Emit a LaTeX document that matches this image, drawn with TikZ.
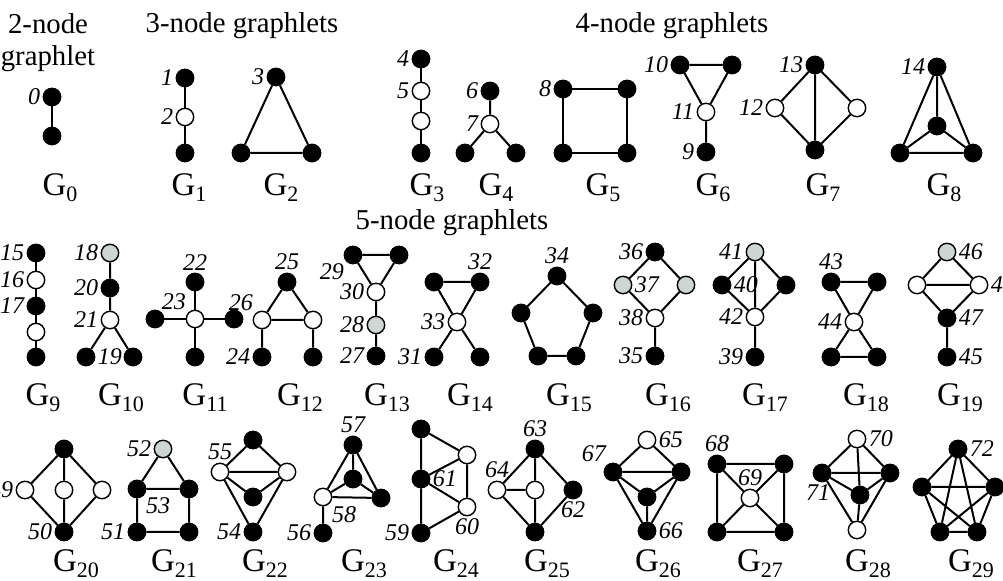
\documentclass[tikz,border=0pt]{standalone}
\usepackage{fontspec}
\setmainfont{Liberation Serif}
\usetikzlibrary{positioning}
\definecolor{orbitgrey}{RGB}{206,214,212}
\newcommand{\gname}[1]{G\raisebox{-0.35ex}{\fontsize{11}{11}\selectfont #1}}

\begin{document}
\begin{tikzpicture}[
  x=0.5pt, y=-0.5pt,
  vtx/.style={circle, draw, line width=0.7pt, inner sep=0pt, minimum size=8.7pt},
  blk/.style={vtx, fill=black},
  wht/.style={vtx, fill=white},
  gry/.style={vtx, fill=orbitgrey},
  edge/.style={line width=1pt},
  every label/.style={font=\fontsize{12}{12}\selectfont\itshape, inner sep=1pt},
  title/.style={font=\fontsize{14.4}{16}\selectfont, anchor=base, inner sep=0pt},
  gname/.style={font=\fontsize{16.5}{16.5}\selectfont, anchor=base, inner sep=0pt}
]
\useasboundingbox (0,0) rectangle (1003,581);

% titles
\node[title, anchor=north, align=center] (t2) at (48,13) {2-node\\graphlet};
\node[title] (t3) at (242,33) {3-node graphlets};
\node[title] (t4) at (672,33) {4-node graphlets};
\node[title] (t5) at (452,230) {5-node graphlets};

% 2- and 3-node graphlets
\node[blk, label=left:0] (g0a) at (52,97) {};
\node[blk] (g0b) at (52,136) {};
\draw[edge] (g0a) -- (g0b);
\node[gname] (n0) at (60,196) {\gname{0}};

\node[blk, label=left:1] (g1a) at (185,78) {};
\node[wht, label=left:2] (g1b) at (185,117) {};
\node[blk] (g1c) at (185,153) {};
\draw[edge] (g1a) -- (g1b) (g1b) -- (g1c);
\node[gname] (n1) at (189,196) {\gname{1}};

\node[blk, label=left:3] (g2a) at (276,77) {};
\node[blk] (g2b) at (241,153) {};
\node[blk] (g2c) at (312,153) {};
\draw[edge] (g2a) -- (g2b) (g2b) -- (g2c) (g2c) -- (g2a);
\node[gname] (n2) at (281,196) {\gname{2}};

% 4-node graphlets
\node[blk, label=left:4] (g3a) at (421,59) {};
\node[wht, label=left:5] (g3b) at (421,91) {};
\node[wht] (g3c) at (421,121) {};
\node[blk] (g3d) at (421,153) {};
\draw[edge] (g3a) -- (g3b) (g3b) -- (g3c) (g3c) -- (g3d);
\node[gname] (n3) at (427,196) {\gname{3}};

\node[blk, label=left:6] (g4a) at (490,91) {};
\node[wht, label=left:7] (g4b) at (490,124) {};
\node[blk] (g4c) at (465,153) {};
\node[blk] (g4d) at (516,153) {};
\draw[edge] (g4a) -- (g4b) (g4b) -- (g4c) (g4b) -- (g4d);
\node[gname] (n4) at (496,196) {\gname{4}};

\node[blk, label=left:8] (g5a) at (563,89) {};
\node[blk] (g5b) at (627,89) {};
\node[blk] (g5c) at (563,153) {};
\node[blk] (g5d) at (627,153) {};
\draw[edge] (g5a) -- (g5b) (g5b) -- (g5d) (g5d) -- (g5c) (g5c) -- (g5a);
\node[gname] (n5) at (603,196) {\gname{5}};

\node[blk, label=left:10] (g6a) at (680,65) {};
\node[blk] (g6b) at (732,65) {};
\node[wht, label=left:11] (g6c) at (706,112) {};
\node[blk, label=left:9] (g6d) at (706,152) {};
\draw[edge] (g6a) -- (g6b) (g6a) -- (g6c) (g6b) -- (g6c) (g6c) -- (g6d);
\node[gname] (n6) at (713,196) {\gname{6}};

\node[blk, label=left:13] (g7a) at (815,65) {};
\node[wht, label=left:12] (g7b) at (775,108) {};
\node[wht] (g7c) at (857,108) {};
\node[blk] (g7d) at (815,150) {};
\draw[edge] (g7a) -- (g7b) (g7a) -- (g7c) (g7a) -- (g7d) (g7b) -- (g7d) (g7c) -- (g7d);
\node[gname] (n7) at (823,196) {\gname{7}};

\node[blk, label=left:14] (g8a) at (937,67) {};
\node[blk] (g8b) at (937,126) {};
\node[blk] (g8c) at (900,153) {};
\node[blk] (g8d) at (973,153) {};
\draw[edge] (g8a) -- (g8b) (g8a) -- (g8c) (g8a) -- (g8d) (g8b) -- (g8c) (g8b) -- (g8d) (g8c) -- (g8d);
\node[gname] (n8) at (944,196) {\gname{8}};

% 5-node graphlets, first row
\node[blk, label=left:15] (g9a) at (36,253) {};
\node[wht, label=left:16] (g9b) at (36,280) {};
\node[blk, label=left:17] (g9c) at (36,306) {};
\node[wht] (g9d) at (36,332) {};
\node[blk] (g9e) at (36,357) {};
\draw[edge] (g9a) -- (g9b) (g9b) -- (g9c) (g9c) -- (g9d) (g9d) -- (g9e);
\node[gname] (n9) at (43,406) {\gname{9}};

\node[gry, label=left:18] (g10a) at (110,253) {};
\node[blk, label=left:20] (g10b) at (110,288) {};
\node[wht, label=left:21] (g10c) at (110,320) {};
\node[blk, label=right:19] (g10d) at (86,357) {};
\node[blk] (g10e) at (133,357) {};
\draw[edge] (g10a) -- (g10b) (g10b) -- (g10c) (g10c) -- (g10d) (g10c) -- (g10e);
\node[gname] (n10) at (121,406) {\gname{10}};

\node[blk, label=above:22] (g11a) at (195,282) {};
\node[wht, label=above left:23] (g11b) at (195,319) {};
\node[blk] (g11c) at (155,319) {};
\node[blk] (g11d) at (234,319) {};
\node[blk] (g11e) at (195,357) {};
\draw[edge] (g11b) -- (g11a) (g11b) -- (g11c) (g11b) -- (g11d) (g11b) -- (g11e);
\node[gname] (n11) at (205,406) {\gname{11}};

\node[blk, label=above:25] (g12a) at (287,282) {};
\node[wht, label=above left:26] (g12b) at (262,320) {};
\node[wht] (g12c) at (313,320) {};
\node[blk, label=left:24] (g12d) at (262,357) {};
\node[blk] (g12e) at (313,357) {};
\draw[edge] (g12a) -- (g12b) (g12a) -- (g12c) (g12b) -- (g12c) (g12b) -- (g12d) (g12c) -- (g12e);
\node[gname] (n12) at (300,406) {\gname{12}};

\node[blk, label=below left:29] (g13a) at (353,255) {};
\node[blk] (g13b) at (399,255) {};
\node[wht, label=left:30] (g13c) at (376,292) {};
\node[gry, label=left:28] (g13d) at (376,325) {};
\node[blk, label=left:27] (g13e) at (376,356) {};
\draw[edge] (g13a) -- (g13b) (g13a) -- (g13c) (g13b) -- (g13c) (g13c) -- (g13d) (g13d) -- (g13e);
\node[gname] (n13) at (387,406) {\gname{13}};

\node[blk] (g14a) at (434,282) {};
\node[blk, label=above:32] (g14b) at (480,282) {};
\node[wht, label=left:33] (g14c) at (457,322) {};
\node[blk, label=left:31] (g14d) at (434,357) {};
\node[blk] (g14e) at (480,357) {};
\draw[edge] (g14a) -- (g14b) (g14a) -- (g14c) (g14b) -- (g14c) (g14c) -- (g14d) (g14c) -- (g14e);
\node[gname] (n14) at (470,406) {\gname{14}};

\node[blk, label=above:34] (g15a) at (557,276) {};
\node[blk] (g15b) at (521,313) {};
\node[blk] (g15c) at (593,313) {};
\node[blk] (g15d) at (538,356) {};
\node[blk] (g15e) at (576,356) {};
\draw[edge] (g15a) -- (g15b) (g15b) -- (g15d) (g15d) -- (g15e) (g15e) -- (g15c) (g15c) -- (g15a);
\node[gname] (n15) at (569,406) {\gname{15}};

\node[blk, label=left:36] (g16a) at (655,252) {};
\node[gry, label=right:37] (g16b) at (623,285) {};
\node[gry] (g16c) at (686,285) {};
\node[wht, label=left:38] (g16d) at (655,318) {};
\node[blk, label=left:35] (g16e) at (655,356) {};
\draw[edge] (g16a) -- (g16b) (g16a) -- (g16c) (g16b) -- (g16d) (g16c) -- (g16d) (g16d) -- (g16e);
\node[gname] (n16) at (668,406) {\gname{16}};

\node[gry, label=left:41] (g17a) at (755,252) {};
\node[blk, label=right:40] (g17b) at (722,285) {};
\node[blk] (g17c) at (786,285) {};
\node[wht, label=left:42] (g17d) at (755,317) {};
\node[blk, label=left:39] (g17e) at (755,357) {};
\draw[edge] (g17a) -- (g17b) (g17a) -- (g17c) (g17a) -- (g17d) (g17b) -- (g17d) (g17c) -- (g17d) (g17d) -- (g17e);
\node[gname] (n17) at (765,406) {\gname{17}};

\node[blk, label=above:43] (g18a) at (831,282) {};
\node[blk] (g18b) at (877,282) {};
\node[wht, label=left:44] (g18c) at (854,322) {};
\node[blk] (g18d) at (831,357) {};
\node[blk] (g18e) at (877,357) {};
\draw[edge] (g18a) -- (g18b) (g18a) -- (g18c) (g18b) -- (g18c) (g18c) -- (g18d) (g18c) -- (g18e) (g18d) -- (g18e);
\node[gname] (n18) at (866,406) {\gname{18}};

\node[gry, label=right:46] (g19a) at (947,252) {};
\node[wht] (g19b) at (917,285) {};
\node[wht, label=right:48] (g19c) at (979,285) {};
\node[blk, label=right:47] (g19d) at (947,318) {};
\node[blk, label=right:45] (g19e) at (947,357) {};
\draw[edge] (g19a) -- (g19b) (g19a) -- (g19c) (g19b) -- (g19c) (g19b) -- (g19d) (g19c) -- (g19d) (g19d) -- (g19e);
\node[gname] (n19) at (960,406) {\gname{19}};

% 5-node graphlets, second row
\node[blk] (g20a) at (64,449) {};
\node[wht, label=left:49] (g20b) at (25,490) {};
\node[wht] (g20c) at (64,490) {};
\node[wht] (g20d) at (102,490) {};
\node[blk, label=left:50] (g20e) at (64,532) {};
\draw[edge] (g20a) -- (g20b) (g20a) -- (g20c) (g20a) -- (g20d) (g20b) -- (g20e) (g20c) -- (g20e) (g20d) -- (g20e);
\node[gname] (n20) at (76,572) {\gname{20}};

\node[gry, label=left:52] (g21a) at (163,449) {};
\node[blk, label=below right:53] (g21b) at (137,489) {};
\node[blk] (g21c) at (189,489) {};
\node[blk, label=left:51] (g21d) at (137,532) {};
\node[blk] (g21e) at (189,532) {};
\draw[edge] (g21a) -- (g21b) (g21a) -- (g21c) (g21b) -- (g21c) (g21b) -- (g21d) (g21c) -- (g21e) (g21d) -- (g21e);
\node[gname] (n21) at (174,572) {\gname{21}};

\node[blk] (g22a) at (253,440) {};
\node[wht, label=above:55] (g22b) at (220,472) {};
\node[wht] (g22c) at (287,472) {};
\node[blk] (g22d) at (253,497) {};
\node[blk, label=left:54] (g22e) at (253,532) {};
\draw[edge] (g22a) -- (g22b) (g22a) -- (g22c) (g22b) -- (g22c) (g22b) -- (g22d) (g22c) -- (g22d) (g22b) -- (g22e) (g22c) -- (g22e);
\node[gname] (n22) at (265,572) {\gname{22}};

\node[blk, label=above:57] (g23a) at (353,445) {};
\node[blk] (g23b) at (353,479) {};
\node[wht, label=below right:58] (g23c) at (323,497) {};
\node[blk] (g23d) at (381,498) {};
\node[blk, label=left:56] (g23e) at (323,533) {};
\draw[edge] (g23a) -- (g23b) (g23a) -- (g23c) (g23a) -- (g23d) (g23b) -- (g23c) (g23b) -- (g23d) (g23c) -- (g23d) (g23c) -- (g23e);
\node[gname] (n23) at (364,572) {\gname{23}};

\node[blk] (g24a) at (421,429) {};
\node[blk, label=right:61] (g24b) at (421,479) {};
\node[blk, label=left:59] (g24c) at (421,533) {};
\node[wht] (g24d) at (467,455) {};
\node[wht, label=below:60] (g24e) at (467,507) {};
\draw[edge] (g24a) -- (g24b) (g24b) -- (g24c) (g24a) -- (g24d) (g24b) -- (g24d) (g24b) -- (g24e) (g24c) -- (g24e) (g24d) -- (g24e);
\node[gname] (n24) at (456,572) {\gname{24}};

\node[blk, label=above:63] (g25a) at (535,449) {};
\node[wht, label=above:64] (g25b) at (497,490) {};
\node[wht] (g25c) at (535,490) {};
\node[blk, label=below:62] (g25d) at (573,490) {};
\node[blk] (g25e) at (535,532) {};
\draw[edge] (g25a) -- (g25b) (g25a) -- (g25c) (g25a) -- (g25d) (g25b) -- (g25c) (g25c) -- (g25e) (g25b) -- (g25e) (g25d) -- (g25e);
\node[gname] (n25) at (547,572) {\gname{25}};

\node[wht, label=right:65] (g26a) at (647,440) {};
\node[blk, label=120:67] (g26b) at (613,472) {};
\node[blk] (g26c) at (681,472) {};
\node[blk] (g26d) at (647,497) {};
\node[blk, label=right:66] (g26e) at (647,531) {};
\draw[edge] (g26a) -- (g26b) (g26a) -- (g26c) (g26b) -- (g26c) (g26b) -- (g26d) (g26c) -- (g26d) (g26b) -- (g26e) (g26c) -- (g26e) (g26d) -- (g26e);
\node[gname] (n26) at (658,572) {\gname{26}};

\node[blk, label=above:68] (g27a) at (717,464) {};
\node[blk] (g27b) at (784,464) {};
\node[wht, label=above:69] (g27c) at (750,498) {};
\node[blk] (g27d) at (717,532) {};
\node[blk] (g27e) at (784,532) {};
\draw[edge] (g27a) -- (g27b) (g27b) -- (g27e) (g27e) -- (g27d) (g27d) -- (g27a) (g27a) -- (g27c) (g27b) -- (g27c) (g27c) -- (g27d) (g27c) -- (g27e);
\node[gname] (n27) at (760,572) {\gname{27}};

\node[wht, label=right:70] (g28a) at (857,439) {};
\node[blk, label={[xshift=-2pt]below:71}] (g28b) at (822,473) {};
\node[blk] (g28c) at (890,473) {};
\node[blk] (g28d) at (860,495) {};
\node[wht] (g28e) at (857,530) {};
\draw[edge] (g28a) -- (g28b) (g28a) -- (g28c) (g28a) -- (g28d) (g28b) -- (g28c) (g28b) -- (g28d) (g28c) -- (g28d) (g28b) -- (g28e) (g28c) -- (g28e) (g28d) -- (g28e);
\node[gname] (n28) at (868,572) {\gname{28}};

\node[blk, label=right:72] (g29a) at (958,449) {};
\node[blk] (g29b) at (922,487) {};
\node[blk] (g29c) at (995,487) {};
\node[blk] (g29d) at (940,532) {};
\node[blk] (g29e) at (977,532) {};
\draw[edge] (g29a) -- (g29b) (g29a) -- (g29c) (g29a) -- (g29d) (g29a) -- (g29e) (g29b) -- (g29c) (g29b) -- (g29d) (g29b) -- (g29e) (g29c) -- (g29d) (g29c) -- (g29e) (g29d) -- (g29e);
\node[gname] (n29) at (971,572) {\gname{29}};

\end{tikzpicture}
\end{document}
